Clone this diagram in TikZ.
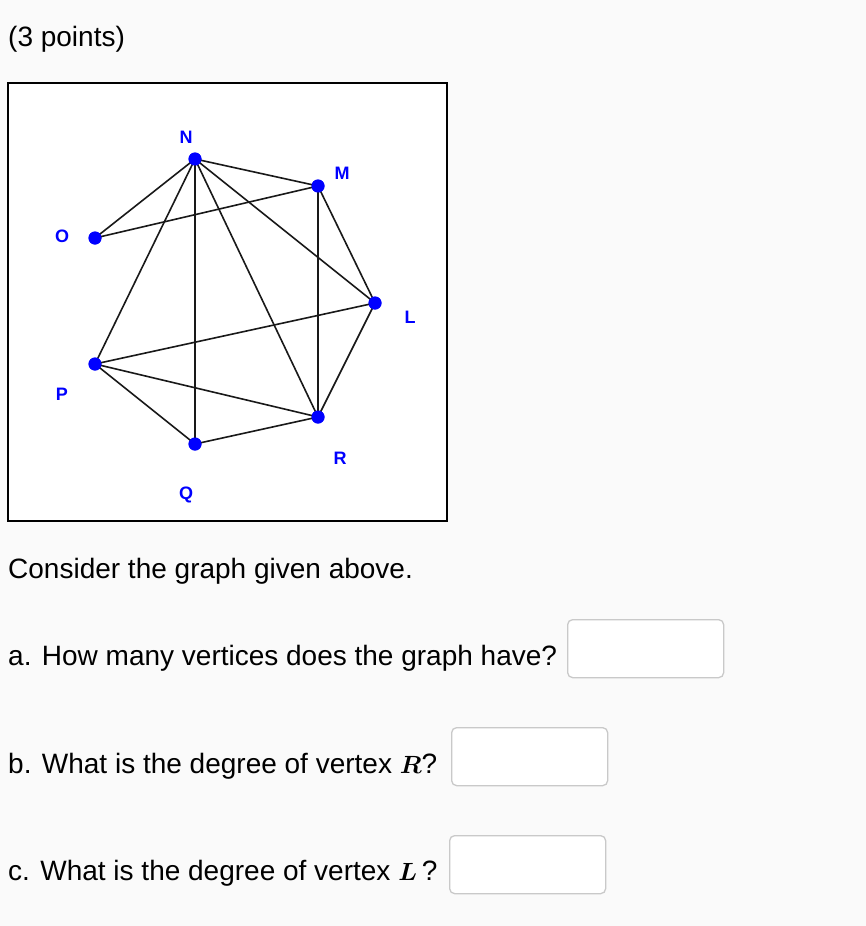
\documentclass[tikz,border=0pt]{standalone}
\usepackage{amsmath}
\usepackage{fontspec}
\setmainfont{Liberation Sans}
\usetikzlibrary{positioning}
\definecolor{vblue}{rgb}{0,0,1}
\definecolor{pagebg}{rgb}{0.98,0.98,0.98}
\definecolor{boxline}{rgb}{0.79,0.79,0.79}
\begin{document}
\begin{tikzpicture}[x=1pt,y=-1pt,
    vertex/.style={circle,fill=vblue,inner sep=0pt,minimum size=13pt},
    vlabel/.style={text=vblue,inner sep=0pt,font=\bfseries\fontsize{18}{18}\selectfont},
    qtext/.style={anchor=base west,inner sep=0pt,font=\fontsize{28}{32}\selectfont},
    answer/.style={draw=boxline,fill=white,line width=1.3pt,rounded corners=5pt,
      minimum width=156pt,minimum height=58pt,inner sep=0pt,anchor=north west}]
  \fill[pagebg] (0,0) rectangle (866,926);
  \useasboundingbox (0,0) rectangle (866,926);
  \node[qtext] (title) at (8,46) {(3 points)};
  % graph frame
  \draw[fill=white,line width=1.8pt] (8,83) rectangle (447,521);
  \node[vertex] (N) at (195,159) {};
  \node[vertex] (M) at (318,186) {};
  \node[vertex] (O) at (95,238) {};
  \node[vertex] (L) at (375,303) {};
  \node[vertex] (P) at (95,364) {};
  \node[vertex] (R) at (318,417) {};
  \node[vertex] (Q) at (195,444) {};
  \node[vlabel] (labN) at (186,137) {N};
  \node[vlabel] (labM) at (342,173) {M};
  \node[vlabel] (labO) at (62,236) {O};
  \node[vlabel] (labL) at (410,317) {L};
  \node[vlabel] (labP) at (62,394) {P};
  \node[vlabel] (labR) at (340,458) {R};
  \node[vlabel] (labQ) at (186,495) {Q};
  \foreach \a/\b in {N/M,N/O,N/P,N/Q,N/R,N/L,M/O,M/R,M/L,L/P,L/R,P/R,P/Q,Q/R}
    \draw[line width=1.6pt,black!90] (\a.center) -- (\b.center);
  \foreach \v in {N,M,O,L,P,R,Q}
    \node[vertex] at (\v) {};
  % questions
  \node[qtext] (intro) at (8,578) {Consider the graph given above.};
  \node[qtext] (qa) at (8,665) {a. How many vertices does the graph have?};
  \node[qtext] (qb) at (8,773) {b. What is the degree of vertex $\boldsymbol{R}$?};
  \node[qtext] (qc) at (8,880) {c. What is the degree of vertex $\boldsymbol{L}$\,?};
  \node[answer] (ansa) at (567,619) {};
  \node[answer] (ansb) at (451,727) {};
  \node[answer] (ansc) at (449,835) {};
\end{tikzpicture}
\end{document}
